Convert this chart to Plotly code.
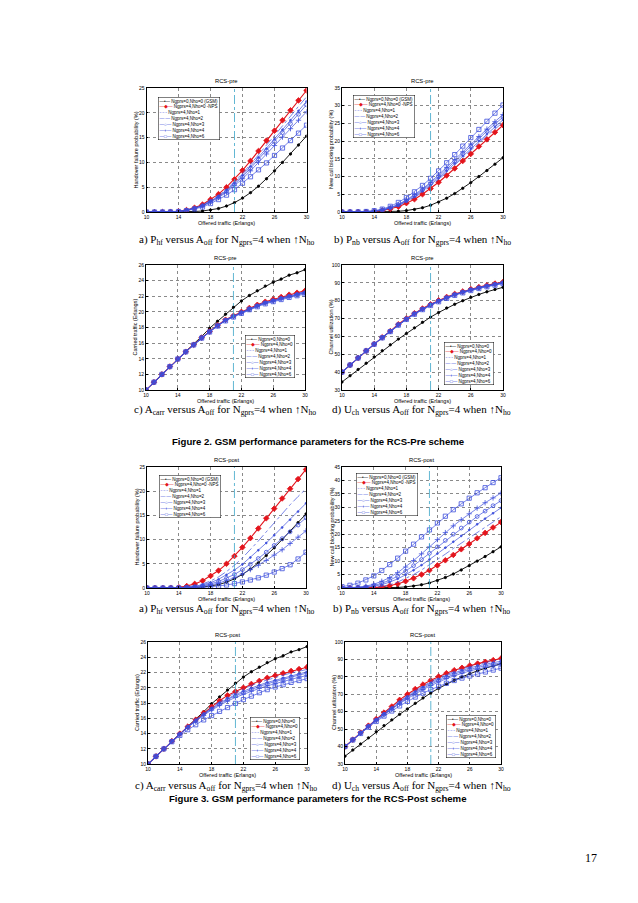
import plotly.graph_objects as go

# ---------------- data ----------------
X = list(range(10, 31))
X_TICKS = [10, 14, 18, 22, 26, 30]
REF_X = 21

NAMES_LONG = ["Ngprs=0,Nho=0 (GSM)", "Ngprs=4,Nho=0 -NPS", "Ngprs=4,Nho=1", "Ngprs=4,Nho=2",
              "Ngprs=4,Nho=3", "Ngprs=4,Nho=4", "Ngprs=4,Nho=6"]
NAMES_SHORT = ["Ngprs=0,Nho=0", "Ngprs=4,Nho=0", "Ngprs=4,Nho=1", "Ngprs=4,Nho=2",
               "Ngprs=4,Nho=3", "Ngprs=4,Nho=4", "Ngprs=4,Nho=6"]

# Handover failure / blocking of GSM and NPS (common to both schemes)
gsm_prob = [0, 0, 0, 0, 0.02, 0.05, 0.1, 0.2, 0.4, 0.7, 1.2, 1.9, 2.8, 3.9, 5.2, 6.7, 8.3, 10.0, 11.7, 13.5, 15.3]
nps_prob = [0, 0, 0.01, 0.05, 0.15, 0.4, 0.85, 1.5, 2.5, 3.6, 5.0, 6.6, 8.4, 10.3, 12.3, 14.4, 16.4, 18.5, 20.5, 22.5, 24.5]
gsm_acarr = [10.0, 11.0, 12.0, 13.0, 14.0, 14.95, 15.9, 16.85, 17.9, 18.8, 19.7, 20.6, 21.4, 22.1, 22.7, 23.3, 23.8, 24.2, 24.7, 25.0, 25.4]
nps_acarr = [10.0, 11.0, 12.0, 13.0, 13.98, 14.9, 15.8, 16.7, 17.5, 18.3, 19.0, 19.5, 20.0, 20.5, 20.9, 21.3, 21.6, 21.9, 22.2, 22.45, 22.7]
gsm_uch = [34.5, 38.0, 41.5, 45.0, 48.5, 52.0, 55.3, 58.5, 61.6, 64.8, 67.9, 70.8, 73.4, 75.9, 78.0, 80.0, 81.9, 83.5, 85.0, 86.3, 87.5]
nps_uch = [40.0, 44.0, 48.0, 52.0, 55.8, 59.5, 63.0, 66.8, 70.0, 73.0, 75.6, 78.0, 80.2, 82.1, 83.8, 85.2, 86.5, 87.6, 88.6, 89.6, 90.5]

# Figure 2: RCS-pre
pre_phf_n1 = [0, 0, 0.01, 0.05, 0.14, 0.37, 0.8, 1.4, 2.3, 3.3, 4.6, 6.1, 7.8, 9.6, 11.5, 13.4, 15.3, 17.3, 19.3, 21.3, 23.2]
pre_phf_n2 = [0, 0, 0.01, 0.05, 0.13, 0.35, 0.75, 1.3, 2.2, 3.2, 4.4, 5.8, 7.4, 9.2, 11.0, 12.8, 14.7, 16.6, 18.5, 20.4, 22.3]
pre_phf_n3 = [0, 0, 0.01, 0.04, 0.12, 0.33, 0.72, 1.25, 2.1, 3.0, 4.2, 5.6, 7.1, 8.8, 10.6, 12.4, 14.2, 16.0, 17.8, 19.7, 21.6]
pre_phf_n4 = [0, 0, 0.01, 0.04, 0.12, 0.31, 0.68, 1.2, 2.0, 2.9, 4.0, 5.3, 6.7, 8.3, 10.0, 11.7, 13.4, 15.1, 16.8, 18.5, 20.2]
pre_phf_n6 = [0, 0, 0.01, 0.03, 0.1, 0.27, 0.6, 1.0, 1.7, 2.5, 3.4, 4.5, 5.8, 7.1, 8.5, 9.9, 11.4, 12.9, 14.4, 15.9, 17.5]

pre_pnb_n1 = [0, 0, 0.02, 0.07, 0.2, 0.48, 1.0, 1.75, 2.85, 4.1, 5.6, 7.3, 9.2, 11.2, 13.3, 15.4, 17.5, 19.5, 21.5, 23.4, 25.3]
pre_pnb_n2 = [0, 0, 0.02, 0.08, 0.22, 0.52, 1.08, 1.88, 3.0, 4.3, 5.9, 7.6, 9.5, 11.6, 13.7, 15.8, 17.9, 20.0, 22.0, 24.0, 26.0]
pre_pnb_n3 = [0, 0.01, 0.03, 0.09, 0.25, 0.58, 1.17, 2.0, 3.2, 4.6, 6.2, 8.0, 10.0, 12.1, 14.3, 16.5, 18.6, 20.7, 22.8, 24.8, 26.8]
pre_pnb_n4 = [0, 0.01, 0.03, 0.1, 0.27, 0.62, 1.25, 2.15, 3.4, 4.9, 6.5, 8.4, 10.4, 12.6, 14.8, 17.0, 19.2, 21.3, 23.4, 25.5, 27.5]
pre_pnb_n6 = [0, 0.01, 0.04, 0.14, 0.37, 0.82, 1.6, 2.7, 4.1, 5.7, 7.5, 9.5, 11.6, 13.9, 16.2, 18.6, 21.0, 23.3, 25.6, 27.9, 30.2]

pre_acarr_n1 = [10.0, 11.0, 12.0, 13.0, 13.98, 14.9, 15.8, 16.69, 17.49, 18.28, 18.97, 19.47, 19.96, 20.45, 20.85, 21.24, 21.53, 21.82, 22.11, 22.35, 22.6]
pre_acarr_n2 = [10.0, 11.0, 12.0, 13.0, 13.98, 14.9, 15.79, 16.68, 17.48, 18.26, 18.95, 19.45, 19.93, 20.42, 20.81, 21.19, 21.48, 21.77, 22.05, 22.29, 22.52]
pre_acarr_n3 = [10.0, 11.0, 12.0, 13.0, 13.98, 14.89, 15.79, 16.67, 17.46, 18.24, 18.93, 19.42, 19.9, 20.38, 20.77, 21.15, 21.44, 21.72, 22.0, 22.23, 22.45]
pre_acarr_n4 = [10.0, 11.0, 12.0, 13.0, 13.98, 14.89, 15.78, 16.66, 17.45, 18.22, 18.9, 19.39, 19.87, 20.35, 20.74, 21.11, 21.4, 21.68, 21.95, 22.18, 22.4]
pre_acarr_n6 = [10.0, 11.0, 12.0, 13.0, 13.97, 14.88, 15.77, 16.64, 17.42, 18.18, 18.85, 19.34, 19.81, 20.28, 20.66, 21.03, 21.31, 21.58, 21.85, 22.07, 22.28]

pre_uch_n1 = [40.0, 44.0, 48.0, 52.0, 55.8, 59.5, 63.0, 66.7, 69.9, 72.9, 75.5, 77.9, 80.0, 81.9, 83.6, 85.0, 86.3, 87.4, 88.4, 89.4, 90.3]
pre_uch_n2 = [40.0, 44.0, 48.0, 52.0, 55.8, 59.4, 62.9, 66.6, 69.8, 72.8, 75.4, 77.8, 79.9, 81.8, 83.5, 84.9, 86.2, 87.3, 88.3, 89.2, 90.1]
pre_uch_n3 = [40.0, 44.0, 48.0, 52.0, 55.7, 59.4, 62.9, 66.6, 69.8, 72.7, 75.3, 77.7, 79.8, 81.7, 83.4, 84.8, 86.1, 87.2, 88.2, 89.1, 90.0]
pre_uch_n4 = [40.0, 44.0, 48.0, 51.9, 55.7, 59.3, 62.8, 66.5, 69.7, 72.6, 75.2, 77.6, 79.7, 81.6, 83.3, 84.7, 86.0, 87.1, 88.1, 89.0, 89.9]
pre_uch_n6 = [40.0, 44.0, 47.9, 51.9, 55.6, 59.2, 62.7, 66.3, 69.5, 72.4, 75.0, 77.3, 79.4, 81.3, 83.0, 84.4, 85.7, 86.8, 87.8, 88.7, 89.6]

# Figure 3: RCS-post
post_phf_n1 = [0, 0, 0, 0.02, 0.08, 0.2, 0.45, 0.85, 1.45, 2.3, 3.4, 4.7, 6.2, 7.9, 9.7, 11.6, 13.5, 15.4, 17.2, 18.9, 20.5]
post_phf_n2 = [0, 0, 0, 0.02, 0.06, 0.15, 0.33, 0.65, 1.1, 1.8, 2.7, 3.7, 4.9, 6.3, 7.8, 9.3, 10.9, 12.5, 14.1, 15.8, 17.5]
post_phf_n3 = [0, 0, 0, 0.01, 0.04, 0.11, 0.25, 0.5, 0.85, 1.35, 2.0, 2.8, 3.8, 4.9, 6.1, 7.4, 8.8, 10.2, 11.6, 13.0, 14.5]
post_phf_n4 = [0, 0, 0, 0.01, 0.03, 0.08, 0.18, 0.36, 0.62, 1.0, 1.5, 2.1, 2.9, 3.8, 4.7, 5.7, 6.8, 7.9, 9.2, 10.5, 11.8]
post_phf_n6 = [0, 0, 0, 0, 0.01, 0.03, 0.07, 0.14, 0.25, 0.4, 0.62, 0.9, 1.25, 1.65, 2.1, 2.65, 3.3, 4.0, 4.8, 6.0, 7.4]

post_pnb_n1 = [0, 0, 0.02, 0.08, 0.25, 0.6, 1.25, 2.2, 3.5, 5.0, 6.7, 8.6, 10.6, 12.6, 14.7, 16.7, 18.7, 20.7, 22.6, 24.6, 26.5]
post_pnb_n2 = [0.01, 0.03, 0.1, 0.3, 0.65, 1.25, 2.2, 3.4, 4.9, 6.6, 8.5, 10.6, 12.8, 15.0, 17.2, 19.4, 21.6, 23.7, 25.8, 27.8, 29.8]
post_pnb_n3 = [0.02, 0.06, 0.2, 0.45, 0.95, 1.75, 2.9, 4.4, 6.2, 8.3, 10.6, 12.9, 15.3, 17.7, 20.0, 22.3, 24.5, 26.6, 28.6, 30.6, 32.5]
post_pnb_n4 = [0.03, 0.1, 0.3, 0.7, 1.4, 2.5, 3.9, 5.7, 7.8, 10.2, 12.7, 15.3, 18.0, 20.6, 23.1, 25.4, 27.6, 29.7, 31.7, 33.5, 35.3]
post_pnb_n6 = [0.5, 1.0, 1.8, 3.0, 4.5, 6.5, 8.7, 11.1, 13.7, 16.3, 19.0, 21.6, 24.2, 26.7, 29.1, 31.3, 33.4, 35.4, 37.3, 39.2, 41.0]

post_acarr_n1 = [10.0, 11.0, 12.0, 13.0, 13.97, 14.9, 15.78, 16.62, 17.4, 18.12, 18.8, 19.35, 19.85, 20.3, 20.7, 21.05, 21.35, 21.65, 21.93, 22.17, 22.4]
post_acarr_n2 = [10.0, 11.0, 12.0, 12.99, 13.95, 14.87, 15.73, 16.55, 17.3, 18.0, 18.6, 19.1, 19.55, 19.97, 20.35, 20.7, 21.0, 21.3, 21.6, 21.85, 22.1]
post_acarr_n3 = [10.0, 11.0, 12.0, 12.99, 13.93, 14.84, 15.68, 16.48, 17.2, 17.87, 18.45, 18.95, 19.38, 19.8, 20.17, 20.52, 20.83, 21.13, 21.42, 21.67, 21.9]
post_acarr_n4 = [10.0, 11.0, 12.0, 12.98, 13.9, 14.8, 15.6, 16.38, 17.07, 17.7, 18.25, 18.73, 19.15, 19.55, 19.92, 20.25, 20.55, 20.85, 21.13, 21.38, 21.6]
post_acarr_n6 = [10.0, 11.0, 11.98, 12.92, 13.75, 14.5, 15.15, 15.78, 16.35, 16.9, 17.4, 17.95, 18.45, 18.9, 19.35, 19.75, 20.1, 20.4, 20.7, 20.95, 21.2]

post_uch_n1 = [40.0, 44.0, 48.0, 51.9, 55.6, 59.2, 62.6, 66.1, 69.2, 72.1, 74.8, 77.2, 79.4, 81.4, 83.1, 84.6, 85.9, 87.1, 88.2, 89.1, 90.0]
post_uch_n2 = [40.0, 44.0, 47.9, 51.8, 55.4, 58.9, 62.2, 65.6, 68.6, 71.5, 74.1, 76.5, 78.6, 80.6, 82.3, 83.8, 85.1, 86.3, 87.3, 88.2, 89.0]
post_uch_n3 = [40.0, 43.9, 47.8, 51.6, 55.2, 58.6, 61.8, 65.1, 68.1, 70.9, 73.5, 75.8, 77.9, 79.8, 81.5, 83.0, 84.3, 85.4, 86.4, 87.3, 88.0]
post_uch_n4 = [40.0, 43.9, 47.7, 51.5, 55.0, 58.3, 61.4, 64.6, 67.5, 70.2, 72.7, 75.0, 77.1, 79.0, 80.6, 82.1, 83.4, 84.5, 85.5, 86.3, 87.0]
post_uch_n6 = [40.0, 43.8, 47.5, 51.1, 54.4, 57.5, 60.4, 63.3, 65.9, 68.4, 70.6, 72.7, 74.6, 76.3, 77.9, 79.3, 80.5, 81.6, 82.8, 83.9, 85.0]

# ---------------- styling / layout ----------------
PAGE_W, PAGE_H = 638, 903
OFF = 8                      # default page margin of the html body
W, H = PAGE_W - 2 * OFF, PAGE_H - 2 * OFF
BLUE = "#3d4fdc"
RED = "#e3141c"
SANS = "Liberation Sans, Arial, sans-serif"
SERIF = "Liberation Serif, Times New Roman, serif"

STYLES = [
    dict(color="black", width=0.9, dash="solid", symbol="circle", size=2.4),
    dict(color=RED, width=1.1, dash="solid", symbol="diamond", size=4.3),
    dict(color=BLUE, width=0.7, dash="dashdot", symbol=None, size=0),
    dict(color=BLUE, width=0.7, dash="solid", symbol="circle", size=1.8),
    dict(color=BLUE, width=0.7, dash="solid", symbol="circle-open", size=3.8),
    dict(color=BLUE, width=0.7, dash="solid", symbol="cross-thin-open", size=3.8),
    dict(color=BLUE, width=0.7, dash="solid", symbol="square-open", size=4.2),
]
KEYS = [("black", "—•—"), (RED, "—◆—"), (BLUE, "-·-·-"), (BLUE, "—·—"),
        (BLUE, "—○—"), (BLUE, "—+—"), (BLUE, "—□—")]

YL_HF = "Handover failure probability (%)"
YL_NB = "New call blocking probability (%)"
YL_AC = "Carried traffic (Erlangs)"
YL_UC = "Channel utilization (%)"
XL = "Offered traffic (Erlangs)"

panels = [
    dict(series=[gsm_prob, nps_prob, pre_phf_n1, pre_phf_n2, pre_phf_n3, pre_phf_n4, pre_phf_n6],
         title="RCS-pre", ylabel=YL_HF, yr=[0, 25], dt=5, names=NAMES_LONG,
         box=(146.5, 306.5, 88, 212), leg=(158, 97)),
    dict(series=[gsm_prob, nps_prob, pre_pnb_n1, pre_pnb_n2, pre_pnb_n3, pre_pnb_n4, pre_pnb_n6],
         title="RCS-pre", ylabel=YL_NB, yr=[0, 35], dt=5, names=NAMES_LONG,
         box=(342, 503, 88, 212), leg=(353, 95)),
    dict(series=[gsm_acarr, nps_acarr, pre_acarr_n1, pre_acarr_n2, pre_acarr_n3, pre_acarr_n4, pre_acarr_n6],
         title="RCS-pre", ylabel=YL_AC, yr=[10, 26], dt=2, names=NAMES_SHORT,
         box=(146, 305, 265, 390), leg=(245, 335)),
    dict(series=[gsm_uch, nps_uch, pre_uch_n1, pre_uch_n2, pre_uch_n3, pre_uch_n4, pre_uch_n6],
         title="RCS-pre", ylabel=YL_UC, yr=[30, 100], dt=10, names=NAMES_SHORT,
         box=(342, 503, 265, 390), leg=(444, 342)),
    dict(series=[gsm_prob, nps_prob, post_phf_n1, post_phf_n2, post_phf_n3, post_phf_n4, post_phf_n6],
         title="RCS-post", ylabel=YL_HF, yr=[0, 25], dt=5, names=NAMES_LONG,
         box=(147, 306, 467, 588), leg=(159, 475)),
    dict(series=[gsm_prob, nps_prob, post_pnb_n1, post_pnb_n2, post_pnb_n3, post_pnb_n4, post_pnb_n6],
         title="RCS-post", ylabel=YL_NB, yr=[0, 45], dt=5, names=NAMES_LONG,
         box=(342, 501, 467, 588), leg=(356, 473)),
    dict(series=[gsm_acarr, nps_acarr, post_acarr_n1, post_acarr_n2, post_acarr_n3, post_acarr_n4, post_acarr_n6],
         title="RCS-post", ylabel=YL_AC, yr=[10, 26], dt=2, names=NAMES_SHORT,
         box=(148, 307, 642, 764), leg=(250, 717)),
    dict(series=[gsm_uch, nps_uch, post_uch_n1, post_uch_n2, post_uch_n3, post_uch_n4, post_uch_n6],
         title="RCS-post", ylabel=YL_UC, yr=[30, 100], dt=10, names=NAMES_SHORT,
         box=(345, 501, 642, 764), leg=(446, 715)),
]

CAP_A = "a) P<sub>hf</sub> versus A<sub>off</sub> for N<sub>gprs</sub>=4 when ↑N<sub>ho</sub>"
CAP_B = "b) P<sub>nb</sub> versus A<sub>off</sub> for N<sub>gprs</sub>=4 when ↑N<sub>ho</sub>"
CAP_C = "c) A<sub>carr</sub> versus A<sub>off</sub> for N<sub>gprs</sub>=4 when ↑N<sub>ho</sub>"
CAP_D = "d) U<sub>ch</sub> versus A<sub>off</sub> for N<sub>gprs</sub>=4 when ↑N<sub>ho</sub>"
captions = [(CAP_A, 226, 240), (CAP_B, 422, 240), (CAP_C, 225, 410), (CAP_D, 421, 410),
            (CAP_A, 226, 609), (CAP_B, 421, 609), (CAP_C, 226, 786), (CAP_D, 421, 786)]
FIG_TITLES = [("Figure 2. GSM performance parameters for the RCS-Pre scheme", 318, 441),
              ("Figure 3. GSM performance parameters for the RCS-Post scheme", 318, 798)]


def px(xp):
    return (xp - OFF) / W


def py(yp):
    return 1 - (yp - OFF) / H


fig = go.Figure()
layout = dict(width=W, height=H, margin=dict(l=0, r=0, t=0, b=0),
              paper_bgcolor="white", plot_bgcolor="white", showlegend=False,
              font=dict(family=SANS, size=5, color="black"))
annotations = []
shapes = []

for i, p in enumerate(panels, start=1):
    sfx = "" if i == 1 else str(i)
    xa, ya = "x" + sfx, "y" + sfx
    x0, x1, t, b = p["box"]
    for vals, st, name in zip(p["series"], STYLES, p["names"]):
        mode = "lines" if st["symbol"] is None else "lines+markers"
        tr = go.Scatter(x=X, y=vals, mode=mode, name=name, xaxis=xa, yaxis=ya,
                        line=dict(color=st["color"], width=st["width"], dash=st["dash"]))
        if st["symbol"] is not None:
            tr.marker = dict(symbol=st["symbol"], size=st["size"], color=st["color"],
                             line=dict(color=st["color"], width=0.8))
        fig.add_trace(tr)
    axcommon = dict(showline=True, linecolor="black", linewidth=0.7, mirror=True,
                    ticks="inside", ticklen=2, tickwidth=0.6, tickcolor="black",
                    showgrid=True, gridcolor="#8a8a8a", gridwidth=0.5, griddash="dot",
                    zeroline=False, tickfont=dict(size=5, family=SANS), automargin=False)
    layout["xaxis" + sfx] = dict(axcommon, domain=[px(x0), px(x1)], anchor=ya, range=[10, 30],
                                 tickvals=X_TICKS, ticklabelstandoff=0)
    layout["yaxis" + sfx] = dict(axcommon, domain=[py(b), py(t)], anchor=xa, range=p["yr"],
                                 dtick=p["dt"], tick0=p["yr"][0])
    shapes.append(dict(type="line", xref=xa, yref=ya + " domain", x0=REF_X, x1=REF_X, y0=0, y1=1,
                       line=dict(color="#3aa5c8", width=0.8, dash="dashdot")))
    annotations.append(dict(text=p["title"], xref="paper", yref="paper", x=px((x0 + x1) / 2),
                            y=py(t - 2), xanchor="center", yanchor="bottom", showarrow=False,
                            font=dict(size=5.8, family=SANS)))
    annotations.append(dict(text=XL, xref="paper", yref="paper", x=px((x0 + x1) / 2),
                            y=py(b + 11), xanchor="center", yanchor="middle", showarrow=False,
                            font=dict(size=5.5, family=SANS)))
    annotations.append(dict(text=p["ylabel"], xref="paper", yref="paper", x=px(x0 - 11),
                            y=py((t + b) / 2), xanchor="center", yanchor="middle", showarrow=False,
                            textangle=-90, font=dict(size=5.5, family=SANS)))
    legtext = "<br>".join(f"<span style='color:{c}'>{k}</span> {n}"
                          for (c, k), n in zip(KEYS, p["names"]))
    lx, ly = p["leg"]
    annotations.append(dict(text=legtext, xref="paper", yref="paper", x=px(lx), y=py(ly),
                            xanchor="left", yanchor="top", align="left", showarrow=False,
                            bgcolor="white", bordercolor="black", borderwidth=0.5, borderpad=1,
                            font=dict(size=4.5, family=SANS)))

for text, cx, cy in captions:
    annotations.append(dict(text=text, xref="paper", yref="paper", x=px(cx), y=py(cy),
                            xanchor="center", yanchor="middle", showarrow=False,
                            font=dict(size=11, family=SERIF)))
for text, cx, cy in FIG_TITLES:
    annotations.append(dict(text="<b>" + text + "</b>", xref="paper", yref="paper", x=px(cx),
                            y=py(cy), xanchor="center", yanchor="middle", showarrow=False,
                            font=dict(size=9.6, family=SANS)))
annotations.append(dict(text="17", xref="paper", yref="paper", x=px(591), y=py(858),
                        xanchor="center", yanchor="middle", showarrow=False,
                        font=dict(size=12, family=SERIF)))

layout["annotations"] = annotations
layout["shapes"] = shapes
fig.update_layout(**layout)
fig.write_html("out.html")
